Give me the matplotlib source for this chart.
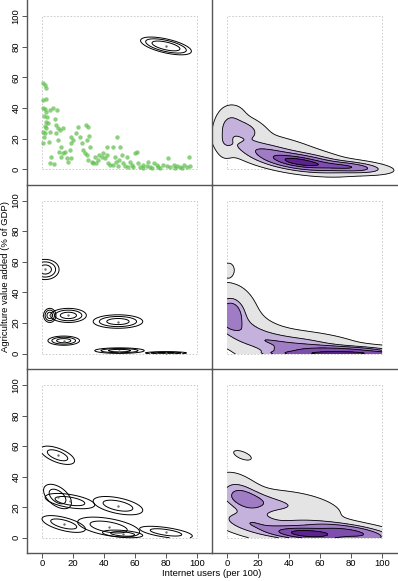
import numpy as np
import matplotlib.pyplot as plt

plt.rcParams['font.family'] = ['Liberation Sans', 'DejaVu Sans']

# observed countries (top-left scatter)
internet = [0.6, 1.7, 2.4, 0.6, 2.8, 0.6, 1.7, 2.8, 1.3, 3.2, 2.4, 3.9, 1.7, 2.8, 0.6, 1.7,
            1.1, 0.6, 4.5, 5.0, 5.4, 6.0, 5.0, 8.0, 7.0, 9.7, 8.2, 9.0, 10.4, 11.4, 13.6, 9.3,
            10.4, 12.5, 11.0, 13.6, 12.5, 14.7, 15.8, 17.0, 19.0, 18.0, 19.0, 18.4, 20.0, 21.8,
            23.3, 24.4, 25.5, 26.6, 27.6, 28.3, 29.8, 30.4, 29.0, 30.9, 29.2, 29.8, 32.0, 33.0,
            34.0, 35.0, 36.0, 37.0, 38.4, 39.5, 40.6, 41.7, 42.0, 42.8, 43.8, 46.0, 47.0, 48.0,
            48.6, 50.3, 51.4, 50.0, 52.5, 53.6, 54.6, 56.8, 57.9, 60.0, 61.0, 62.2, 63.3, 65.4,
            67.6, 68.7, 69.8, 71.0, 72.0, 74.0, 75.0, 76.0, 78.0, 80.6, 81.6, 82.7, 85.0, 86.0,
            87.0, 89.0, 91.4, 93.5, 94.6, 95.7, 90.3, 65.4, 59.0, 55.7, 49.0, 46.0]
agri = [56.0, 55.0, 53.0, 45.0, 46.0, 40.0, 39.0, 37.5, 35.0, 34.0, 31.0, 30.0, 28.0, 27.0,
        24.5, 23.4, 21.0, 17.0, 18.0, 24.5, 38.6, 8.0, 4.0, 3.5, 39.7, 38.6, 33.0, 29.0, 26.7,
        25.6, 26.7, 23.4, 19.0, 14.8, 11.5, 10.4, 8.0, 11.5, 7.0, 5.0, 7.0, 12.6, 17.0, 21.0,
        19.0, 23.4, 27.8, 21.0, 17.0, 12.6, 10.4, 28.9, 27.8, 22.0, 19.0, 14.8, 9.3, 6.0, 5.0,
        4.0, 8.0, 4.0, 6.0, 9.3, 8.0, 10.4, 7.0, 14.8, 9.3, 4.0, 3.0, 14.8, 8.0, 5.0, 21.0,
        14.8, 9.3, 6.0, 4.0, 2.0, 8.0, 5.0, 2.8, 10.4, 11.5, 4.0, 1.7, 2.8, 2.2, 5.0, 1.7, 0.6,
        4.0, 2.8, 1.7, 0.6, 2.8, 2.2, 7.0, 1.7, 2.8, 0.6, 2.2, 1.7, 2.8, 1.7, 8.0, 2.2, 0.6,
        0.6, 1.7, 1.7, 2.2, 2.8]

# single component fitted in the top-left panel: mean x, mean y, sd x, sd y, rho
top_comp = dict(mx=[80.0], my=[80.5], sx=[8.2], sy=[2.9], rho=[-0.6])

# density underlying the top-right panel
top_mix = dict(mx=[11, -1, 4, 25, 48, 78, 35], my=[26, 22, 34, 11, 4.5, 1.5, 13],
               sx=[7, 4, 5, 13, 14, 12, 26], sy=[4.5, 8, 5, 4.5, 3.5, 2.2, 9],
               rho=[-0.3, 0.0, 0.0, -0.6, -0.5, -0.4, -0.7],
               w=[0.06, 0.04, 0.02, 0.13, 0.36, 0.13, 0.09])

# middle row: narrow components (left) and the resulting estimate (right)
mid_comp = dict(mx=[2, 5, 17, 14, 49, 50, 80], my=[55, 25, 25, 8.5, 21, 2, 0.5],
                sx=[9, 4, 11.6, 10.2, 16, 16, 13.4], sy=[6.6, 4.6, 4.6, 3, 4.4, 1.8, 0.8],
                rho=[0, 0, 0, 0, 0, 0, 0])
mid_mix = dict(mx=[1, 2, 4, 18, 50, 72, 75], my=[55, 26, 26, 12, 5, 1, 0.3],
               sx=[2.5, 5, 10, 15, 22, 22, 22], sy=[3, 6, 12, 8, 5.5, 2.2, 0.8],
               rho=[0, 0, -0.2, -0.5, -0.4, 0, 0],
               w=[0.006, 0.07, 0.16, 0.14, 0.24, 0.26, 0.1])

# bottom row: mixture components, drawn on the left and summed on the right
bot_mix = dict(mx=[10, 10, 18, 14, 49, 43, 52, 80], my=[54, 27, 24, 9, 21, 7, 2.5, 3.5],
               sx=[11, 9, 16, 14, 16, 20, 13, 17], sy=[6, 8, 5, 5.5, 6, 6.5, 2.5, 4],
               rho=[-0.6, -0.5, -0.5, -0.6, -0.5, -0.5, -0.4, -0.6],
               w=[0.015, 0.11, 0.1, 0.1, 0.06, 0.12, 0.2, 0.22])

hpd_probs = [0.97, 0.8, 0.55, 0.3, 0.1]
fill_cols = ['#e4e4e4', '#c4b2dc', '#9f7cc4', '#7e4eae', '#5c2390']


def gauss(X, Y, mx, my, sx, sy, rho):
    dx = (X - mx) / sx
    dy = (Y - my) / sy
    q = (dx ** 2 - 2 * rho * dx * dy + dy ** 2) / (1 - rho ** 2)
    return np.exp(-q / 2), 2 * np.pi * sx * sy * np.sqrt(1 - rho ** 2)


def grid(lo, hi, n=301):
    g = np.linspace(lo, hi, n)
    return np.meshgrid(g, g)


def draw_rings(ax, comp, radii):
    X, Y = grid(0, 100)
    levels = sorted(np.exp(-np.array(radii) ** 2 / 2))
    for i in range(len(comp['mx'])):
        z, _ = gauss(X, Y, comp['mx'][i], comp['my'][i], comp['sx'][i], comp['sy'][i], comp['rho'][i])
        ax.contour(X, Y, z, levels=levels, colors='black', linewidths=0.7)
    ax.scatter(comp['mx'], comp['my'], s=3, color='#5b7a55', zorder=3, linewidths=0)


def draw_density(ax, mix, lo, hi):
    X, Y = grid(lo, hi)
    Z = np.zeros_like(X)
    for i in range(len(mix['mx'])):
        z, norm = gauss(X, Y, mix['mx'][i], mix['my'][i], mix['sx'][i], mix['sy'][i], mix['rho'][i])
        Z += mix['w'][i] * z / norm
    zs = np.sort(Z.ravel())[::-1]
    cs = np.cumsum(zs) / zs.sum()
    levels = [zs[np.searchsorted(cs, p)] for p in hpd_probs] + [Z.max() * 1.01]
    ax.contourf(X, Y, Z, levels=levels, colors=fill_cols)
    ax.contour(X, Y, Z, levels=levels[:-1], colors='black', linewidths=0.6)


fig = plt.figure(figsize=(3.98, 5.81), dpi=100)
left, mid, right = 27 / 398, 212 / 398, 397 / 398
rows = [(0, 184.5), (184.5, 369), (369, 553)]
axes = []
for r, (t, b) in enumerate(rows):
    row = []
    for c, (x0, x1) in enumerate([(left, mid), (mid, right)]):
        ax = fig.add_axes([x0, 1 - b / 581, x1 - x0, (b - t) / 581])
        ax.set_facecolor('none')
        ax.set_xlim(-9.7, 109.7)
        ax.set_ylim(-10, 110.5)
        for s in ['top', 'right']:
            ax.spines[s].set_visible(False)
        for s in ['left', 'bottom']:
            ax.spines[s].set_color('#555555')
            ax.spines[s].set_linewidth(1.0)
            ax.spines[s].set_zorder(5)
        ax.plot([0, 100, 100, 0, 0], [0, 0, 100, 100, 0], color='#c4c4c4',
                lw=0.6, ls=(0, (2, 2)), zorder=0)
        ax.set_xticks([0, 20, 40, 60, 80, 100])
        ax.set_yticks([0, 20, 40, 60, 80, 100])
        ax.tick_params(length=3.5, width=0.7, color='#555555', labelsize=6.8, pad=1)
        if c == 0:
            ax.set_yticklabels([0, 20, 40, 60, 80, 100], rotation=90, va='center')
        else:
            ax.tick_params(axis='y', left=False, labelleft=False)
        if r < 2:
            ax.tick_params(axis='x', bottom=False, labelbottom=False)
        row.append(ax)
    axes.append(row)

ax = axes[0][0]
ax.scatter(internet, agri, s=10, color='#5cbd4a', alpha=0.7, linewidths=0)
draw_rings(ax, top_comp, [2.0, 1.6, 1.1])
draw_density(axes[0][1], top_mix, -12, 112)

draw_rings(axes[1][0], mid_comp, [1.0, 0.75, 0.45])
draw_density(axes[1][1], mid_mix, 0, 100)

draw_rings(axes[2][0], bot_mix, [1.0, 0.6])
draw_density(axes[2][1], bot_mix, 0, 100)

fig.text(0.013, 1 - 276.75 / 581, 'Agriculture value added (% of GDP)', rotation=90,
         ha='center', va='center', fontsize=6.8)
fig.text(0.533, 1 - 574 / 581, 'Internet users (per 100)', ha='center', va='center', fontsize=6.8)

fig.savefig('out.png', dpi=100)
